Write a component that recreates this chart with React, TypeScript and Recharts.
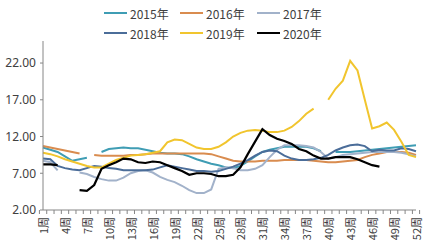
import { LineChart, Line, XAxis, YAxis } from "recharts";

const weeks = Array.from({ length: 52 }, (_, i) => `${i + 1}周`);

const y2015 = [10.5, 10.2, 9.9, 9.3, 8.7, 8.9, 9.1, null, 9.9, 10.3, 10.4, 10.5, 10.4, 10.4, 10.2, 10.0, 9.8, 9.7, 9.7, 9.6, 9.3, 8.9, 8.6, 8.3, 8.1, 7.8, 7.7, 8.0, 8.6, 9.3, 9.9, 10.2, 10.4, 10.6, 10.6, 10.6, 10.6, 10.4, 10.0, null, 9.9, 9.9, 9.9, 10.0, 10.1, 10.2, 10.3, 10.4, 10.5, 10.6, 10.7, 10.8];
const y2016 = [10.7, 10.5, 10.3, 10.1, 9.9, 9.7, null, 9.5, 9.4, 9.4, 9.4, 9.4, 9.5, 9.5, 9.6, 9.7, 9.7, 9.7, 9.7, 9.7, 9.7, 9.7, 9.7, 9.6, 9.3, 9.0, 8.7, 8.6, 8.6, 8.6, 8.7, 8.7, 8.7, 8.8, 8.8, 8.8, 8.8, 8.7, 8.6, 8.5, 8.5, 8.6, 8.7, 8.8, 9.2, 9.5, 9.7, 9.9, 9.9, 9.9, 9.8, 9.5];
const y2017 = [8.7, 8.5, 7.4, null, null, 7.1, 6.9, 6.5, 6.2, 6.0, 6.0, 6.4, 7.0, 7.3, 7.4, 7.1, 6.5, 6.1, 5.8, 5.3, 4.7, 4.3, 4.3, 4.8, 7.6, 7.8, 7.7, 7.4, 7.4, 7.6, 8.1, 9.2, 10.2, 10.8, 10.8, 10.8, 10.7, 10.5, 9.9, 9.0, 9.2, 9.5, 9.6, 9.7, 9.8, 9.9, 9.9, 9.9, 9.9, 9.8, 9.6, 9.3];
const y2018 = [9.0, 8.9, 8.0, 7.7, 7.5, 7.4, 7.7, 8.0, 7.9, 7.7, 7.6, 7.4, 7.4, 7.4, 7.4, 7.5, 7.8, 8.1, 7.9, 7.7, 7.5, 7.3, 7.3, 7.2, 7.3, 7.6, 7.9, 8.3, 8.8, 9.4, 9.9, 10.1, 10.0, 9.4, 9.0, 8.8, 8.8, 8.9, 9.1, 9.5, 10.1, 10.5, 10.8, 10.9, 10.7, 10.0, 10.2, 10.1, 10.1, 10.4, 10.3, 10.0];
const y2019 = [9.8, 9.6, 9.3, 8.9, 8.6, 8.3, 8.0, 7.8, 7.8, 8.3, 8.8, 9.1, 9.4, 9.5, 9.6, 9.8, 10.0, 11.2, 11.6, 11.5, 11.0, 10.5, 10.3, 10.3, 10.6, 11.2, 12.0, 12.5, 12.8, 12.9, 12.8, 12.6, 12.6, 12.8, 13.3, 14.1, 15.1, 15.8, null, 17.0, 18.5, 19.6, 22.3, 21.0, 17.0, 13.1, 13.4, 13.9, 12.9, 11.3, 9.5, 9.2];
const y2020 = [8.2, 8.2, 8.1, null, null, 4.7, 4.6, 5.4, 7.6, 8.1, 8.5, 9.0, 8.9, 8.5, 8.4, 8.6, 8.5, 8.1, 7.7, 7.3, 6.8, 7.0, 7.0, 6.9, 6.6, 6.6, 6.8, 7.8, 9.6, 11.3, 13.0, 12.2, 11.7, 11.4, 11.0, 10.3, 10.0, 9.4, 9.0, 9.0, 9.2, 9.2, 9.2, 8.9, 8.5, 8.1, 7.9, null, null, null, null, null];

const yTicks = [2, 7, 12, 17, 22];

const series = [
  { key: "2015年", values: y2015, color: "#3f9db4" },
  { key: "2016年", values: y2016, color: "#d98c4f" },
  { key: "2017年", values: y2017, color: "#a2b2ca" },
  { key: "2018年", values: y2018, color: "#4b6d99" },
  { key: "2019年", values: y2019, color: "#f1c52e" },
  { key: "2020年", values: y2020, color: "#000000" },
];

const data = weeks.map((w, i) => {
  const row: Record<string, any> = { week: w };
  series.forEach((s) => (row[s.key] = s.values[i]));
  return row;
});

const FONT = "'Noto Sans CJK SC', 'Noto Sans', sans-serif";
const BAND = (416 - 43) / 52;

function WeekTick(props: any) {
  const { x, y, payload, index } = props;
  const axisY = y - 6;
  const idx = typeof index === "number" ? index : weeks.indexOf(payload.value);
  return (
    <g>
      <line x1={x - BAND / 2} x2={x - BAND / 2} y1={axisY} y2={axisY + 4} stroke="#868686" />
      {idx === 51 && (
        <line x1={x + BAND / 2} x2={x + BAND / 2} y1={axisY} y2={axisY + 4} stroke="#868686" />
      )}
      {idx % 3 === 0 && (
        <text
          x={x}
          y={y + 1}
          transform={`rotate(-90, ${x}, ${y + 1})`}
          textAnchor="end"
          dominantBaseline="central"
          fontSize={11}
          fill="#404040"
          fontFamily={FONT}
        >
          {payload.value}
        </text>
      )}
    </g>
  );
}

function LegendBox() {
  return (
    <div
      style={{
        position: "absolute",
        left: 104,
        top: 4,
        display: "grid",
        gridTemplateColumns: "76px 77px 80px",
        rowGap: 2,
        fontFamily: FONT,
        fontSize: 12,
        color: "#404040",
      }}
    >
      {series.map((s) => (
        <div key={s.key} style={{ display: "flex", alignItems: "center", height: 18 }}>
          <span
            style={{ display: "inline-block", width: 23, height: 2, background: s.color, marginRight: 3 }}
          />
          {s.key}
        </div>
      ))}
    </div>
  );
}

export default function App() {
  return (
    <div style={{ position: "fixed", left: 0, top: 0, width: 426, height: 251, background: "#fff" }}>
      <LineChart width={426} height={251} data={data} margin={{ top: 41, right: 10, left: 0, bottom: 0 }}>
        <XAxis
          dataKey="week"
          interval={0}
          tickLine={false}
          tickSize={4}
          tickMargin={2}
          height={41}
          stroke="#868686"
          tick={<WeekTick />}
        />
        <YAxis
          domain={[2, 25]}
          ticks={yTicks}
          width={43}
          stroke="#868686"
          tickSize={3}
          tickMargin={4}
          tickFormatter={(v) => Number(v).toFixed(2)}
          tick={{ fontSize: 12, fill: "#404040", fontFamily: "'Noto Sans', sans-serif" }}
        />
        {series.map((s) => (
          <Line
            key={s.key}
            dataKey={s.key}
            stroke={s.color}
            strokeWidth={s.key === "2020年" ? 2.2 : 2}
            dot={false}
            type="linear"
            isAnimationActive={false}
          />
        ))}
      </LineChart>
      <LegendBox />
    </div>
  );
}
